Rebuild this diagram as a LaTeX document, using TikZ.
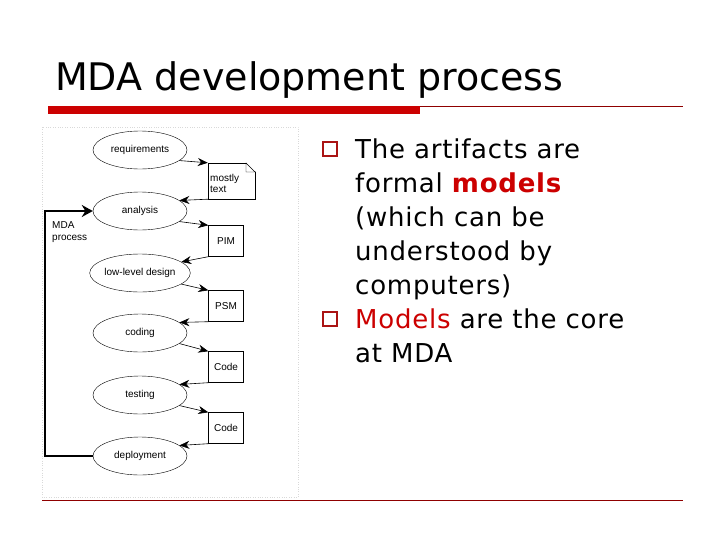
\documentclass[tikz,border=0pt]{standalone}
\usepackage{fontspec}
\setmainfont{DejaVu Sans}
\newfontfamily\dfont{Liberation Sans}
\usetikzlibrary{arrows.meta,shapes.geometric}
\definecolor{mdared}{RGB}{204,0,0}
\definecolor{bulred}{RGB}{170,20,20}
\begin{document}
\begin{tikzpicture}[x=1pt,y=-1pt,
 proc/.style={draw,ellipse,minimum width=94pt,minimum height=38pt,inner sep=0pt,font=\dfont\fontsize{10}{11}\selectfont},
 art/.style={draw,minimum width=35pt,minimum height=31pt,inner sep=1pt,font=\dfont\fontsize{10}{11}\selectfont},
 flow/.style={-{Stealth[length=10pt,width=8pt]},semithick},
 body/.style={anchor=base west,font=\fontsize{26}{28}\selectfont\addfontfeature{LetterSpace=3},inner sep=0pt},
 bul/.style={draw=bulred,line width=1.6pt,minimum size=14pt,inner sep=0pt}]
\useasboundingbox (0,0) rectangle (728,546);
\fill[white] (0,0) rectangle (728,546);
\node[anchor=base west,inner sep=0pt,font=\fontsize{38}{40}\selectfont] (title) at (55,90) {MDA development process};
\fill[mdared] (48,106) rectangle (420,114);
\draw[mdared!70!black,line width=0.8pt] (420,106.5) -- (683,106.5);
\draw[mdared!70!black,line width=0.8pt] (42,500) -- (683,500);
\draw[gray!30,dotted] (42,127) rectangle (298,497);
% diagram
\node[proc] (req) at (140,150) {requirements};
\node[proc] (ana) at (140,211) {analysis};
\node[proc] (lld) at (140,273) {low-level design};
\node[proc] (cod) at (140,333) {coding};
\node[proc] (tst) at (140,395) {testing};
\node[proc] (dep) at (140,456) {deployment};
\node[draw,minimum width=47pt,minimum height=36pt,inner sep=1pt] (txt) at (231.5,181) {};
\node[anchor=west,align=left,inner sep=0pt,font=\dfont\fontsize{10}{11}\selectfont] (txtl) at (210,183) {mostly\\text};
\fill[white] (246,163) -- (256,163) -- (256,172) -- cycle;
\draw (246,163) -- (255,172) -- (246,172) -- cycle;
\node[art] (pim) at (226,241) {PIM};
\node[art] (psm) at (226,306) {PSM};
\node[art] (c1) at (226,367) {Code};
\node[art] (c2) at (226,428) {Code};
\draw[flow] (req.-15) -- (txt.north west);
\draw[flow] (txt.south west) -- (ana.15);
\draw[flow] (ana.-15) -- (pim.north west);
\draw[flow] (pim.south west) -- (lld.15);
\draw[flow] (lld.-15) -- (psm.north west);
\draw[flow] (psm.south west) -- (cod.15);
\draw[flow] (cod.-15) -- (c1.north west);
\draw[flow] (c1.south west) -- (tst.15);
\draw[flow] (tst.-15) -- (c2.north west);
\draw[flow] (c2.south west) -- (dep.15);
\draw[line width=2.5pt,-{Stealth[length=11pt,width=12pt]}] (dep.west) -| (45,211) -- (ana.west);
\node[anchor=north west,align=left,inner sep=0pt,font=\dfont\fontsize{10}{12}\selectfont] (mda) at (52,221) {MDA\\process};
% text
\node[bul] (b1) at (330,149) {};
\node[body] (t1) at (355,158) {The artifacts are};
\node[body] (t2) at (355,192) {formal \textcolor{mdared}{\bfseries models}};
\node[body] (t3) at (355,226) {(which can be};
\node[body] (t4) at (355,260) {understood by};
\node[body] (t5) at (355,294) {computers)};
\node[bul] (b2) at (330,319) {};
\node[body] (t6) at (355,328) {\textcolor{mdared}{Models} are the core};
\node[body] (t7) at (355,362) {at MDA};
\end{tikzpicture}
\end{document}
